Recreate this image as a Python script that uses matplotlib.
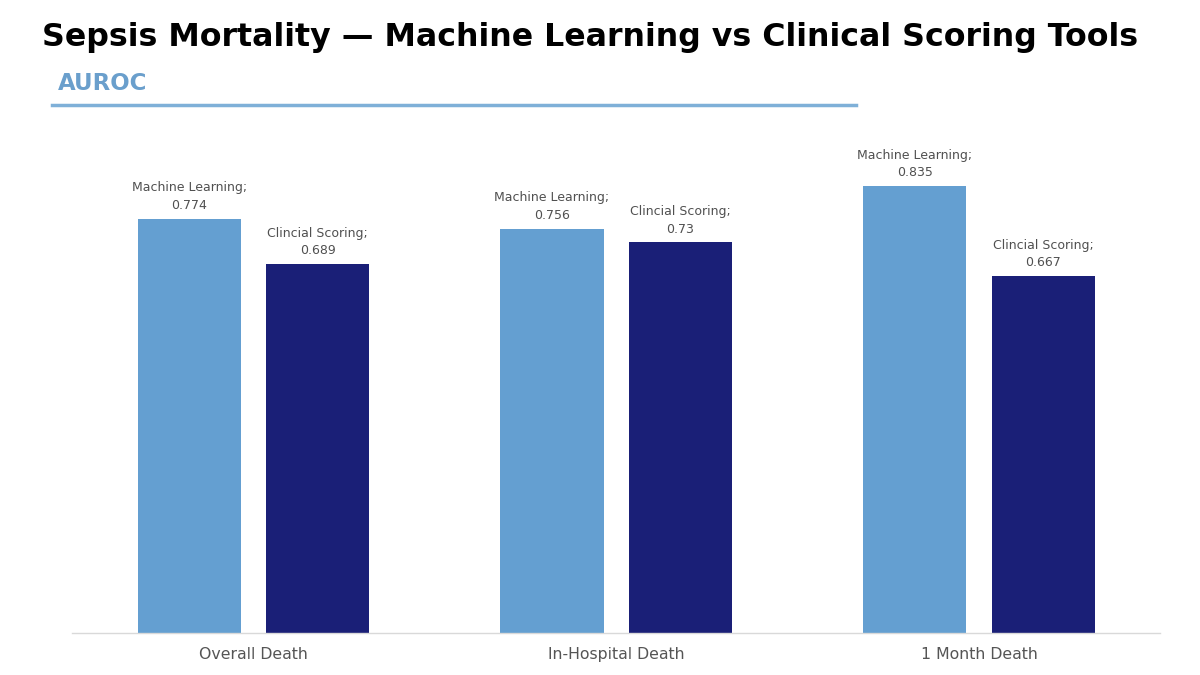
import numpy as np
import matplotlib.pyplot as plt
from matplotlib.lines import Line2D

categories = ["Overall Death", "In-Hospital Death", "1 Month Death"]
ml_values = [0.774, 0.756, 0.835]
clin_values = [0.689, 0.73, 0.667]
ml_name = "Machine Learning"
clin_name = "Clincial Scoring"

plt.rcParams['font.family'] = ['DejaVu Sans']

fig = plt.figure(figsize=(12, 6.75), dpi=100)
ax = fig.add_axes([0.06, 0.062, 0.907, 0.7136])

x = np.arange(len(categories))
w = 0.284
off = 0.177
light = "#649fd1"
dark = "#1a1f77"

b1 = ax.bar(x - off, ml_values, w, color=light)
b2 = ax.bar(x + off, clin_values, w, color=dark)

# data labels: "Series;\nvalue"
for bars, vals, name in [(b1, ml_values, ml_name), (b2, clin_values, clin_name)]:
    for rect, v in zip(bars, vals):
        ax.annotate(f"{name};\n{v:g}", (rect.get_x() + rect.get_width() / 2, v),
                    xytext=(0, 5), textcoords="offset points",
                    ha="center", va="bottom", fontsize=9, color="#505050",
                    linespacing=1.45)

ax.set_xlim(-0.5, 2.5)
ax.set_ylim(0, 0.9)
ax.set_xticks(x)
ax.set_xticklabels(categories, fontsize=11.3, color="#555555")
ax.tick_params(axis="x", length=0, pad=10)
ax.set_yticks([])
for s in ["top", "right", "left"]:
    ax.spines[s].set_visible(False)
ax.spines["bottom"].set_color("#d9d9d9")
ax.spines["bottom"].set_linewidth(1)

fig.text(0.035, 0.944, "Sepsis Mortality \u2014 Machine Learning vs Clinical Scoring Tools",
         fontsize=22.8, fontweight="bold", color="black", va="center", ha="left")
fig.text(0.048, 0.877, "AUROC", fontsize=16.5, fontweight="bold", color="#6a9fcc",
         va="center", ha="left")
fig.add_artist(Line2D([0.043, 0.713], [0.844, 0.844], color="#7fb0d8", linewidth=2.5,
                      transform=fig.transFigure))

fig.savefig("out.png", dpi=100, facecolor="white")
